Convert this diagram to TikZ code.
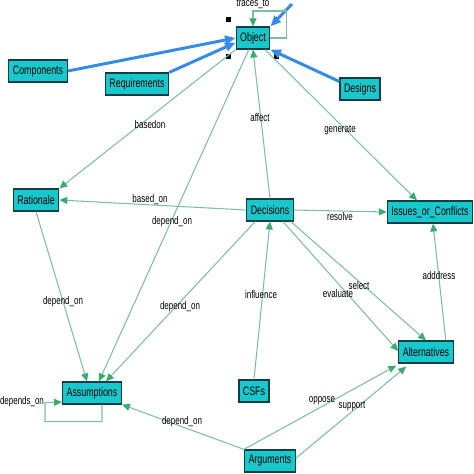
\documentclass[tikz,border=0pt]{standalone}
\usepackage{fontspec}
\setmainfont{Liberation Sans}[FakeStretch=0.72]
\usepackage{tikz}
\usetikzlibrary{arrows.meta,calc}

\definecolor{boxfill}{RGB}{24,200,204}
\definecolor{boxedge}{RGB}{20,62,70}
\definecolor{linkgreen}{RGB}{122,192,160}
\definecolor{tipgreen}{RGB}{58,172,110}
\definecolor{feedblue}{RGB}{52,140,232}

\begin{document}
\begin{tikzpicture}[x=0.02cm, y=-0.02cm,
  every node/.style={font=\fontsize{6.3}{7.5}\selectfont},
  cls/.style={rectangle, draw=boxedge, line width=0.7pt, fill=boxfill,
              minimum height=0.44cm, inner xsep=2.3pt, inner ysep=1pt,
              font=\fontsize{7}{8}\selectfont},
  lbl/.style={inner sep=0.5pt},
  link/.style={draw=linkgreen, line width=0.6pt,
               -{Triangle[length=4.5pt,width=4pt,color=tipgreen]}},
  feed/.style={draw=feedblue, line width=1.7pt,
               -{Triangle[length=6pt,width=5pt]}},
  handle/.style={rectangle, fill=black, minimum size=2.6pt, inner sep=0pt}]

\useasboundingbox (0,0) rectangle (474,474);

\node[cls] (obj)  at (253,38)  {Object};
\node[cls] (comp) at (38,71)   {Components};
\node[cls] (req)  at (137,84)  {Requirements};
\node[cls] (des)  at (360,89)  {Designs};
\node[cls] (rat)  at (36,200)  {Rationale};
\node[cls] (dec)  at (270,210) {Decisions};
\node[cls] (iss)  at (430,212) {Issues\_or\_Conflicts};
\node[cls] (alt)  at (426,352) {Alternatives};
\node[cls] (asm)  at (92,393)  {Assumptions};
\node[cls] (csf)  at (254,391) {CSFs};
\node[cls] (arg)  at (270,461) {Arguments};

% selection handles round Object
\foreach \c/\dx/\dy [count=\i] in {north west/-7/-7, south west/-7/7, south east/6/7, north east/6/-7}
  \node[handle] (hd\i) at ($(obj.\c)+(\dx,\dy)$) {};

\coordinate (offtop) at (292,4);
\draw[feed] (comp.east) -- (obj.west);
\draw[feed] (req.north east) -- (obj.195);
\draw[feed] (des.160) -- (obj.south east);
\draw[feed] (offtop) -- (obj.north east);

\draw[link] (obj.east) -- ++(16,0) -- ++(0,-27) -| (obj.north);
\draw[link] (obj.south west) -- (rat.north east);
\draw[link] (obj.250) -- ($(asm.north)+(7,0)$);
\draw[link] ($(obj.south)+(12,0)$) -- ($(iss.north)+(-13,0)$);
\draw[link] (dec.north) -- (obj.south);
\draw[link] (dec.west) -- (rat.east);
\draw[link] (dec.east) -- (iss.west);
\draw[link] (rat.south) -- ($(asm.north)+(-5,0)$);
\draw[link] ($(dec.south west)+(9,0)$) -- ($(asm.north)+(14,0)$);
\draw[link] (csf.north) -- (dec.south);
\draw[link] ($(dec.south)+(13,0)$) -- ($(alt.west)+(0,-1)$);
\draw[link] ($(dec.south east)+(-3,0)$) -- (alt.north);
\draw[link] ($(alt.north east)+(-8,0)$) -- ($(iss.south)+(3,0)$);
\draw[link] (arg.north west) -- ($(alt.south west)+(-2,2)$);
\draw[link] ($(arg.east)+(0,-3)$) -- ($(alt.south west)+(8,3)$);
\draw[link] (arg.north west) -- (asm.south east);
\draw[link] ($(asm.south)+(10,0)$) -- ++(0,17) -| ++(-57,-19) -- ($(asm.west)+(0,9)$);

\node[lbl] (ltr)  at (253,4)   {traces\_to};
\node[lbl] (lbo)  at (150,125) {basedon};
\node[lbl] (laf)  at (260,118) {affect};
\node[lbl] (lge)  at (340,130) {generate};
\node[lbl] (lbs)  at (150,200) {based\_on};
\node[lbl] (ld1)  at (172,222) {depend\_on};
\node[lbl] (lre)  at (340,217) {resolve};
\node[lbl] (ld2)  at (63,302)  {depend\_on};
\node[lbl] (ld3)  at (180,307) {depend\_on};
\node[lbl] (lin)  at (261,295) {influence};
\node[lbl] (lev)  at (338,294) {evaluate};
\node[lbl] (lse)  at (359,286) {select};
\node[lbl] (lad)  at (439,276) {adddress};
\node[lbl] (lop)  at (322,401) {oppose};
\node[lbl] (lsu)  at (352,406) {support};
\node[lbl] (ld4)  at (182,422) {depend\_on};
\node[lbl] (lds)  at (22,402)  {depends\_on};
\end{tikzpicture}
\end{document}
